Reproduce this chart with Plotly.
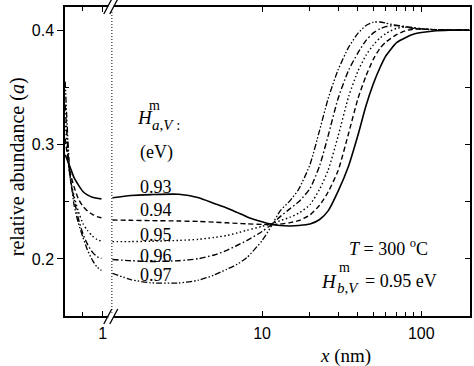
import plotly.graph_objects as go

# ---------------- data ----------------
x_near = [0.58, 0.62, 0.66, 0.70, 0.75, 0.80, 0.86, 0.92, 0.98]
x_far = [1.15, 1.5, 2, 3, 4, 5, 6, 7, 8, 10, 11.3, 13, 15, 17, 20, 23, 26, 30,
         35, 40, 45, 50, 55, 60, 70, 80, 90, 100, 120, 150, 200]

h093_near = [0.291, 0.281, 0.271, 0.265, 0.259, 0.256, 0.254, 0.253, 0.2525]
h094_near = [0.305, 0.277, 0.263, 0.253, 0.246, 0.242, 0.239, 0.237, 0.236]
h095_near = [0.320, 0.273, 0.255, 0.242, 0.231, 0.225, 0.220, 0.217, 0.2155]
h096_near = [0.335, 0.274, 0.252, 0.236, 0.222, 0.213, 0.206, 0.202, 0.2005]
h097_near = [0.355, 0.277, 0.247, 0.232, 0.219, 0.208, 0.199, 0.193, 0.190]

h093_far = [0.2535, 0.2555, 0.2562, 0.2565, 0.2535, 0.2485, 0.2445, 0.2405, 0.2370,
            0.2325, 0.2305, 0.2292, 0.2288, 0.2292, 0.2305, 0.2345, 0.2420, 0.2590,
            0.2815, 0.3080, 0.3340, 0.3530, 0.3670, 0.3775, 0.3890, 0.3935, 0.3965,
            0.3978, 0.3992, 0.3998, 0.4000]
h094_far = [0.2340, 0.2338, 0.2335, 0.2332, 0.2328, 0.2322, 0.2316, 0.2311, 0.2307,
            0.2302, 0.2300, 0.2305, 0.2318, 0.2335, 0.2385, 0.2470, 0.2585, 0.2770,
            0.3100, 0.3400, 0.3600, 0.3745, 0.3840, 0.3895, 0.3960, 0.3995, 0.4008,
            0.4008, 0.4003, 0.4000, 0.4000]
h095_far = [0.2152, 0.2152, 0.2155, 0.2162, 0.2172, 0.2188, 0.2205, 0.2228, 0.2250,
            0.2285, 0.2305, 0.2335, 0.2365, 0.2400, 0.2475, 0.2610, 0.2775, 0.3070,
            0.3420, 0.3640, 0.3780, 0.3870, 0.3930, 0.3970, 0.4015, 0.4025, 0.4020,
            0.4012, 0.4004, 0.4000, 0.4000]
h096_far = [0.1995, 0.1985, 0.1978, 0.1985, 0.2003, 0.2035, 0.2075, 0.2120, 0.2160,
            0.2240, 0.2295, 0.2370, 0.2440, 0.2500, 0.2615, 0.2815, 0.3075, 0.3400,
            0.3650, 0.3800, 0.3910, 0.3975, 0.4010, 0.4030, 0.4040, 0.4030, 0.4018,
            0.4010, 0.4003, 0.4000, 0.4000]
h097_far = [0.1875, 0.1820, 0.1792, 0.1790, 0.1815, 0.1860, 0.1910, 0.1955, 0.2010,
            0.2160, 0.2275, 0.2420, 0.2510, 0.2610, 0.2825, 0.3125, 0.3400, 0.3650,
            0.3850, 0.3970, 0.4040, 0.4068, 0.4070, 0.4060, 0.4040, 0.4025, 0.4015,
            0.4008, 0.4003, 0.4000, 0.4000]

series_labels = ["0.93", "0.94", "0.95", "0.96", "0.97"]
x_tick_vals = [1, 10, 100]
x_tick_text = ["1", "10", "100"]
x_minor_vals = [0.75, 20, 30, 40, 50, 60, 70, 80, 90]
y_tick_vals = [0.2, 0.3, 0.4]
y_tick_text = ["0.2", "0.3", "0.4"]
y_minor_vals = [0.25, 0.35]
x_break = 1.14

# ---------------- styling ----------------
near = [h093_near, h094_near, h095_near, h096_near, h097_near]
far = [h093_far, h094_far, h095_far, h096_far, h097_far]
dashes = ["solid", "5px,3px", "1.5px,2.5px", "6px,2.5px,1.5px,2.5px",
          "6px,2px,1.5px,2px,1.5px,2px"]
widths = [1.6, 1.4, 1.4, 1.4, 1.3]

fig = go.Figure()
for lab, yn, yf, d, w in zip(series_labels, near, far, dashes, widths):
    fig.add_trace(go.Scatter(
        x=x_near + [None] + x_far, y=yn + [None] + yf, mode="lines",
        line=dict(color="black", width=w, dash=d, shape="spline", smoothing=0.6),
        name=lab, showlegend=False, connectgaps=False))

fig.add_trace(go.Scatter(x=[None], y=[None], yaxis="y2", showlegend=False,
                         hoverinfo="skip"))

L, R, T, B = 65, 472, 7, 316
W, H = 474, 366


def px(xp):
    return (xp - L) / (R - L)


def py(yp):
    return (B - yp) / (B - T)


tickfont = dict(family="Liberation Sans, Arial, sans-serif", size=16, color="black")
serif = "Liberation Serif, Times New Roman, serif"

fig.update_layout(
    width=W, height=H,
    margin=dict(l=L, r=W - R, t=T, b=H - B),
    paper_bgcolor="white", plot_bgcolor="white",
    xaxis=dict(type="log", range=[-0.2375, 2.306], showline=True, linecolor="black",
               linewidth=1.5, mirror="ticks", ticks="inside", ticklen=5, tickwidth=1,
               tickcolor="black", tickvals=x_tick_vals, ticktext=x_tick_text,
               tickfont=tickfont, showgrid=False, zeroline=False,
               ticklabelstandoff=2,
               minor=dict(tickvals=x_minor_vals, ticks="inside", ticklen=4,
                          tickcolor="black", showgrid=False)),
    yaxis=dict(range=[0.1502, 0.4201], showline=True, linecolor="black", linewidth=1.5,
               mirror=True, ticks="outside", ticklen=6, tickwidth=1, tickcolor="black",
               tickvals=y_tick_vals, ticktext=y_tick_text, tickfont=tickfont,
               showgrid=False, zeroline=False,
               minor=dict(tickvals=y_minor_vals, ticks="inside", ticklen=4,
                          tickcolor="black", showgrid=False)),
    yaxis2=dict(range=[0.1502, 0.4201], overlaying="y", side="right", ticks="inside",
                ticklen=5, tickcolor="black",
                tickvals=y_tick_vals + y_minor_vals, showticklabels=False,
                showgrid=False, zeroline=False, showline=False),
)

shapes = []
# dotted vertical reference line at the axis break
shapes.append(dict(type="line", xref="x", yref="paper", x0=x_break, x1=x_break,
                   y0=0, y1=1, line=dict(color="black", width=1, dash="1px,2px")))
# axis break marks (bottom and top)
for (ya, yb) in [(py(324), py(309)), (py(14), py(-1))]:
    shapes.append(dict(type="rect", xref="paper", yref="paper",
                       x0=px(108.5), x1=px(114), y0=(ya + yb) / 2 - 0.012,
                       y1=(ya + yb) / 2 + 0.012, fillcolor="white",
                       line=dict(width=0), layer="above"))
    for off in (0, 6):
        shapes.append(dict(type="line", xref="paper", yref="paper",
                           x0=px(104 + off), x1=px(112 + off), y0=ya, y1=yb,
                           line=dict(color="black", width=1.3), layer="above"))
fig.update_layout(shapes=shapes)

ann = []


def text(s, xp, yp, size, xanchor="center", yanchor="middle", angle=0):
    ann.append(dict(text=s, x=px(xp), y=py(yp), xref="paper", yref="paper",
                    showarrow=False, xanchor=xanchor, yanchor=yanchor,
                    textangle=angle, font=dict(family=serif, size=size, color="black")))


# axis titles
text("relative abundance (<i>a</i>)", 17, 167, 20, angle=-90)
text("<i>x</i> (nm)", 347, 356, 19)

# H^m_{a,V}: label block
text("<i>H</i>", 145.5, 118, 19)
text("m", 155, 106, 14)
text("<i>a</i>,<i>V</i> :", 167, 125, 15)
text("(eV)", 157, 152, 18)
label_y = [187, 210, 235, 256, 275]
for lab, yy in zip(series_labels, label_y):
    text(lab, 156, yy, 18)

# temperature & H_b
text("<i>T</i> = 300 <sup>o</sup>C", 348, 248, 18, xanchor="left")
text("<i>H</i>", 330, 281, 19)
text("m", 346, 267, 14)
text("<i>b</i>,<i>V</i>", 349, 288, 15)
text("= 0.95 eV", 364, 281, 18, xanchor="left")

fig.update_layout(annotations=ann)

fig.write_html("out.html", config={"displayModeBar": False},
               post_script="document.body.style.margin='0';document.body.style.padding='0';")
